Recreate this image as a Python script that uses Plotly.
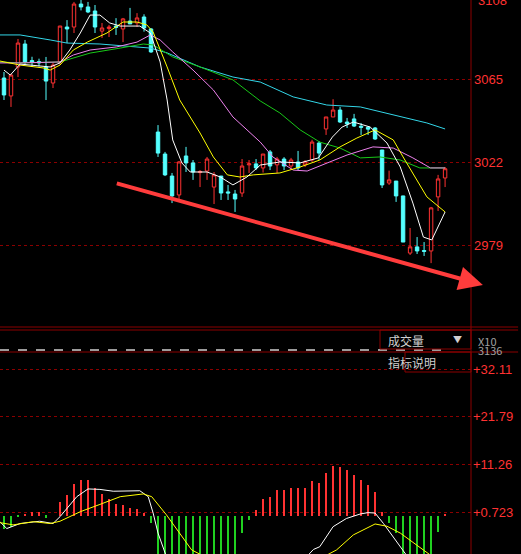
import plotly.graph_objects as go

# candles, one per session
opens = [3066.0, 3056.7, 3071.7, 3083.6, 3075.0, 3074.5, 3071.7, 3063.4, 3074.3, 3092.4,
         3092.4, 3104.3, 3102.8, 3100.7, 3090.3, 3091.6, 3092.9, 3091.4, 3095.5, 3094.5,
         3097.6, 3091.4, 3038.0, 3026.6, 3015.2, 3005.4, 3025.6, 3022.0, 3017.0, 3017.8,
         3009.5, 3015.2, 3007.0, 3005.9, 3006.4, 3021.0, 3021.5, 3019.4, 3027.7, 3021.0,
         3024.0, 3020.4, 3022.5, 3021.0, 3023.5, 3032.3, 3039.6, 3045.8, 3049.4, 3043.2,
         3044.8, 3041.0, 3040.5, 3040.1, 3028.7, 3011.6, 3012.6, 3004.9, 2975.3, 2978.5,
         2976.6, 2976.4, 3004.4, 3014.2]
highs = [3069.1, 3068.1, 3086.2, 3085.7, 3077.0, 3076.0, 3076.9, 3073.8, 3093.0, 3096.0,
         3105.4, 3106.4, 3105.4, 3103.8, 3094.5, 3093.5, 3097.0, 3097.1, 3102.3, 3099.6,
         3099.0, 3091.9, 3041.6, 3027.7, 3016.8, 3023.0, 3030.3, 3023.5, 3018.3, 3025.1,
         3017.3, 3015.2, 3010.6, 3008.0, 3024.0, 3023.5, 3024.0, 3026.6, 3028.7, 3025.1,
         3025.0, 3024.6, 3028.2, 3023.5, 3034.0, 3033.3, 3045.8, 3055.0, 3051.0, 3045.3,
         3047.4, 3042.7, 3041.0, 3040.6, 3028.7, 3018.0, 3012.6, 3005.0, 2988.3, 2983.6,
         2981.0, 2999.2, 3015.8, 3019.9]
lows = [3054.6, 3051.0, 3066.5, 3072.7, 3071.7, 3072.0, 3054.6, 3060.8, 3073.0, 3084.1,
        3089.3, 3101.0, 3099.6, 3089.3, 3086.7, 3087.2, 3088.3, 3084.6, 3094.0, 3092.4,
        3090.0, 3079.0, 3025.1, 3015.2, 3001.2, 3002.8, 3017.3, 3013.2, 3009.5, 3013.2,
        3000.7, 3002.8, 3002.8, 2996.6, 3004.4, 3016.8, 3018.3, 3017.0, 3018.3, 3016.8,
        3018.3, 3018.3, 3018.3, 3019.9, 3022.5, 3023.5, 3036.5, 3045.8, 3042.7, 3040.1,
        3040.6, 3036.5, 3036.5, 3033.9, 3009.0, 3010.6, 3001.8, 2981.0, 2974.3, 2974.8,
        2973.8, 2970.1, 2997.1, 3009.5]
closes = [3057.2, 3067.5, 3084.1, 3074.3, 3074.0, 3073.8, 3064.4, 3072.7, 3092.9, 3091.4,
          3104.3, 3102.8, 3100.2, 3092.4, 3091.9, 3092.4, 3092.2, 3096.6, 3094.0, 3097.1,
          3091.9, 3079.5, 3027.1, 3015.8, 3004.9, 3022.5, 3022.0, 3017.3, 3017.6, 3024.0,
          3015.8, 3006.4, 3006.4, 3003.3, 3020.4, 3021.5, 3019.4, 3026.6, 3020.4, 3024.0,
          3020.4, 3023.5, 3019.4, 3022.5, 3032.8, 3027.1, 3045.8, 3049.4, 3043.2, 3042.2,
          3041.1, 3040.5, 3039.5, 3034.4, 3010.6, 3013.2, 3004.9, 2981.0, 2978.5, 2976.4,
          2976.2, 2998.7, 3013.7, 3019.0]
days = list(range(len(closes)))

# moving averages (session index, price)
ma5_x = [0, 0.9, 2.3, 6.6, 8, 9.4, 10.9, 12.3, 13.7, 15.1, 16.6, 19.4, 20.9, 22.3, 23.3, 24.1,
         25.4, 26.6, 29, 30.9, 32.7, 34.7, 36.6, 39.4, 42.3, 44.9, 46.9, 48.3, 49.9, 52.3,
         54.7, 56.6, 58.4, 59.9, 61.1, 63]
ma5_y = [3070.1, 3067.5, 3073.2, 3071.7, 3073.8, 3080.5, 3089.3, 3098.6, 3098.6, 3094.5,
         3092.9, 3092.9, 3089.3, 3074.3, 3054.6, 3033.9, 3022.0, 3017.3, 3017.3, 3014.7,
         3010.6, 3014.7, 3020.9, 3022.5, 3022.0, 3024.6, 3035.4, 3040.6, 3043.2, 3040.6,
         3032.3, 3019.9, 3001.2, 2983.6, 2982.1, 2996.6]
ma10_x = [-0.6, 2.3, 5.6, 6.6, 8, 9.9, 11.9, 14.7, 17, 19, 20.4, 21.3, 23.3, 25.1, 28, 29.9,
          31.9, 33.7, 35.6, 39.4, 42.3, 45.1, 48, 50.4, 53, 55.6, 57, 59, 60.4, 63]
ma10_y = [3074.8, 3072.7, 3071.2, 3070.1, 3072.7, 3080.5, 3084.6, 3089.3, 3095.0, 3095.0,
          3093.5, 3089.8, 3071.7, 3054.6, 3037.5, 3025.1, 3015.8, 3014.7, 3015.8, 3016.8,
          3019.9, 3023.5, 3030.3, 3034.9, 3039.1, 3033.9, 3025.1, 3013.2, 3004.4, 2996.6]
ma20_x = [-0.6, 2.3, 8, 9.9, 12.3, 16.1, 19, 20.9, 22.3, 24.1, 27, 29.9, 32.7, 36.6, 38.4,
          41.3, 43.3, 46.1, 49, 52.7, 55.6, 58.4, 60.9, 63]
ma20_y = [3073.8, 3073.8, 3074.3, 3077.9, 3080.5, 3082.1, 3084.6, 3088.3, 3085.7, 3079.5,
          3070.1, 3059.8, 3045.8, 3032.8, 3025.1, 3018.3, 3017.8, 3022.0, 3026.1, 3030.3,
          3029.7, 3024.6, 3019.4, 3019.4]
ma30_x = [-0.6, 2.3, 8, 12.3, 16.6, 19.9, 21.3, 24.1, 28, 32.7, 36.6, 39.4, 42.3, 45.1, 48,
          50.9, 53.7, 56.6, 59.4, 63]
ma30_y = [3074.3, 3073.8, 3074.3, 3078.9, 3081.5, 3083.6, 3083.1, 3076.9, 3071.7, 3065.0,
          3054.1, 3047.9, 3039.1, 3032.8, 3029.7, 3024.6, 3025.1, 3023.5, 3019.4, 3019.4]
ma60_x = [-0.6, 2.3, 6.6, 9, 13.7, 18.4, 20.9, 23.3, 28, 32.7, 36.6, 41.3, 46.1, 50.9, 55.6,
          60.4, 63]
ma60_y = [3088.3, 3088.3, 3085.7, 3084.1, 3083.6, 3082.1, 3081.5, 3079.0, 3071.7, 3066.5,
          3063.9, 3056.2, 3052.0, 3051.0, 3046.8, 3042.7, 3039.6]

# MACD
macd_hist = [-2.8, -2.4, -0.2, 0.5, 0.9, 0.9, -0.4, 0.0, 3.0, 4.6,
             7.0, 7.8, 7.8, 6.1, 4.8, 3.7, 2.6, 2.3, 1.7, 1.5,
             0.6, -1.5, -12, -15, -17, -18, -18, -17, -16, -15,
             -14, -13, -12, -10, -3.8, -0.9, 1.3, 3.6, 4.2, 5.6,
             5.6, 6.0, 6.0, 6.2, 7.6, 7.3, 9.5, 11.0, 10.7, 10.1,
             9.0, 7.8, 6.8, 5.3, 0.8, -1.5, -3.8, -10, -12, -13,
             -12, -10, -3.5, 0.5]
dif_x = [-0.6, 0.4, 2.3, 5.1, 7.0, 8.0, 10.4, 12.0, 13.7, 15.6, 19.4, 20.6, 21.3, 22.0, 23.2,
         26, 32, 38, 42, 44.2, 45.1, 47.0, 48.9, 50.9, 52.0, 53.0, 54.2, 55.6, 57.0, 60, 63]
dif_y = [-1.3, -2.8, -1.7, -1.2, -1.7, -0.2, 4.2, 5.9, 5.8, 5.4, 5.5, 4.2, 0.6, -3.8, -9,
         -20, -25, -18, -11, -7.4, -6.8, -2.4, -0.6, 0.4, 0.7, 0.6, -1.7, -4.6, -7.7, -14, -18]
dea_x = [-0.6, 1.3, 4.2, 6.6, 8.0, 10.9, 13.7, 16.6, 19.9, 21.1, 23.2, 25.1, 26.8, 35, 42,
         47.5, 49.9, 53.0, 54.7, 56.6, 59.9, 63]
dea_y = [-1.5, -2.0, -1.3, -1.7, -1.2, 0.9, 2.5, 4.2, 4.8, 4.2, 0.2, -3.8, -7.5, -14, -12,
         -7.5, -4.2, -1.8, -2.3, -3.8, -7.5, -11]

price_ticks = [3065, 3022, 2979]
macd_ticks = [32.11, 21.79, 11.26, 0.723]

RED = "#ff3232"
CYAN = "#54ffff"
GRID = "#8b0000"

fig = go.Figure()

fig.add_trace(go.Candlestick(
    x=days, open=opens, high=highs, low=lows, close=closes,
    increasing=dict(line=dict(color=RED, width=1), fillcolor="black"),
    decreasing=dict(line=dict(color=CYAN, width=1), fillcolor=CYAN),
    whiskerwidth=0, showlegend=False, xaxis="x", yaxis="y"))

for xs, ys, col in [(ma60_x, ma60_y, "#33d6e8"), (ma30_x, ma30_y, "#18c818"),
                    (ma20_x, ma20_y, "#ee82ee"), (ma10_x, ma10_y, "#ffff00"),
                    (ma5_x, ma5_y, "#ffffff")]:
    fig.add_trace(go.Scatter(x=xs, y=ys, mode="lines", line=dict(color=col, width=1),
                             showlegend=False, hoverinfo="skip", xaxis="x", yaxis="y"))

fig.add_trace(go.Bar(x=days, y=macd_hist, width=0.14,
                     marker=dict(color=[RED if v >= 0 else "#20d020" for v in macd_hist], line_width=0),
                     showlegend=False, xaxis="x2", yaxis="y2"))
fig.add_trace(go.Scatter(x=dif_x, y=dif_y, mode="lines", line=dict(color="white", width=1),
                         showlegend=False, xaxis="x2", yaxis="y2"))
fig.add_trace(go.Scatter(x=dea_x, y=dea_y, mode="lines", line=dict(color="#ffff00", width=1),
                         showlegend=False, xaxis="x2", yaxis="y2"))

xr = [-0.57, 66.7]
tickfont = dict(color=RED, size=13, family="Liberation Sans")
fig.update_layout(
    width=521, height=554, autosize=False,
    margin=dict(l=0, r=50, t=0, b=0, pad=0, autoexpand=False),
    paper_bgcolor="black", plot_bgcolor="black",
    font=dict(family="Noto Sans CJK SC", color=RED, size=13),
    bargap=0,
    xaxis=dict(range=xr, domain=[0, 1], showgrid=False, showticklabels=False, zeroline=False,
               rangeslider=dict(visible=False), anchor="y", automargin=False),
    xaxis2=dict(range=xr, domain=[0, 1], showgrid=False, showticklabels=False, zeroline=False,
                anchor="y2", automargin=False),
    yaxis=dict(domain=[1 - 327 / 554, 1], range=[2937, 3106.4], side="right",
               tickvals=price_ticks, ticktext=[str(v) for v in price_ticks],
               showgrid=True, gridcolor=GRID, griddash="dot", gridwidth=1, automargin=False,
               zeroline=False, ticks="", ticklabelstandoff=2, tickfont=tickfont),
    yaxis2=dict(domain=[0, 1 - 352 / 554], range=[-8.4, 36.0], side="right",
                tickvals=macd_ticks, ticktext=["+" + str(v) for v in macd_ticks],
                showgrid=True, gridcolor=GRID, griddash="dot", gridwidth=1, automargin=False,
                zeroline=False, ticks="", ticklabelstandoff=1, tickfont=tickfont),
)

# frame lines
fig.add_shape(type="line", xref="paper", yref="paper", x0=1, x1=1, y0=0, y1=1,
              line=dict(color=GRID, width=1))
for py in [327, 330, 352]:
    fig.add_shape(type="line", xref="paper", yref="paper", x0=0, x1=1.1,
                  y0=1 - py / 554, y1=1 - py / 554, line=dict(color=GRID, width=1))
fig.add_shape(type="line", xref="paper", yref="paper", x0=0, x1=0.95,
              y0=1 - 350 / 554, y1=1 - 350 / 554, line=dict(color="#d0d0d0", width=1.5, dash="dash"))
fig.add_shape(type="rect", xref="paper", yref="paper", x0=380 / 471, x1=1.0,
              y0=1 - 349 / 554, y1=1 - 330 / 554, line=dict(color=GRID, width=1))
fig.add_shape(type="rect", xref="paper", yref="paper", x0=405 / 471, x1=1.0,
              y0=1 - 372 / 554, y1=1 - 352 / 554, line=dict(color=GRID, width=1))

fig.add_annotation(x=0.905, y=1 - 340 / 554, xref="paper", yref="paper", text="成交量",
                   showarrow=False, font=dict(color="#d0d0d0", size=12))
fig.add_annotation(x=0.985, y=1 - 339 / 554, xref="paper", yref="paper", text="▼",
                   showarrow=False, font=dict(color="#d0d0d0", size=9))
fig.add_annotation(x=0.93, y=1 - 362 / 554, xref="paper", yref="paper", text="指标说明",
                   showarrow=False, font=dict(color="#d0d0d0", size=12))
fig.add_annotation(x=1.01, y=1 - 341 / 554, xref="paper", yref="paper", text="X10",
                   xanchor="left", showarrow=False, font=dict(color="#a0a0a0", size=11))
fig.add_annotation(x=1.01, y=1 - 350 / 554, xref="paper", yref="paper", text="3136",
                   xanchor="left", showarrow=False, font=dict(color="#a0a0a0", size=11))
fig.add_annotation(x=1.01, y=1, xref="paper", yref="paper", text="3108", xanchor="left",
                   yanchor="middle", showarrow=False, font=tickfont)

# trend arrow
fig.add_annotation(x=68.4, y=2958.8, ax=15.9, ay=3011.6, xref="x", yref="y",
                   axref="x", ayref="y", text="", showarrow=True, arrowhead=2,
                   arrowsize=1.2, arrowwidth=4, arrowcolor="#ff3c3c")

fig.write_html("out.html", config={"displayModeBar": False},
               post_script="document.body.style.margin='0';")
